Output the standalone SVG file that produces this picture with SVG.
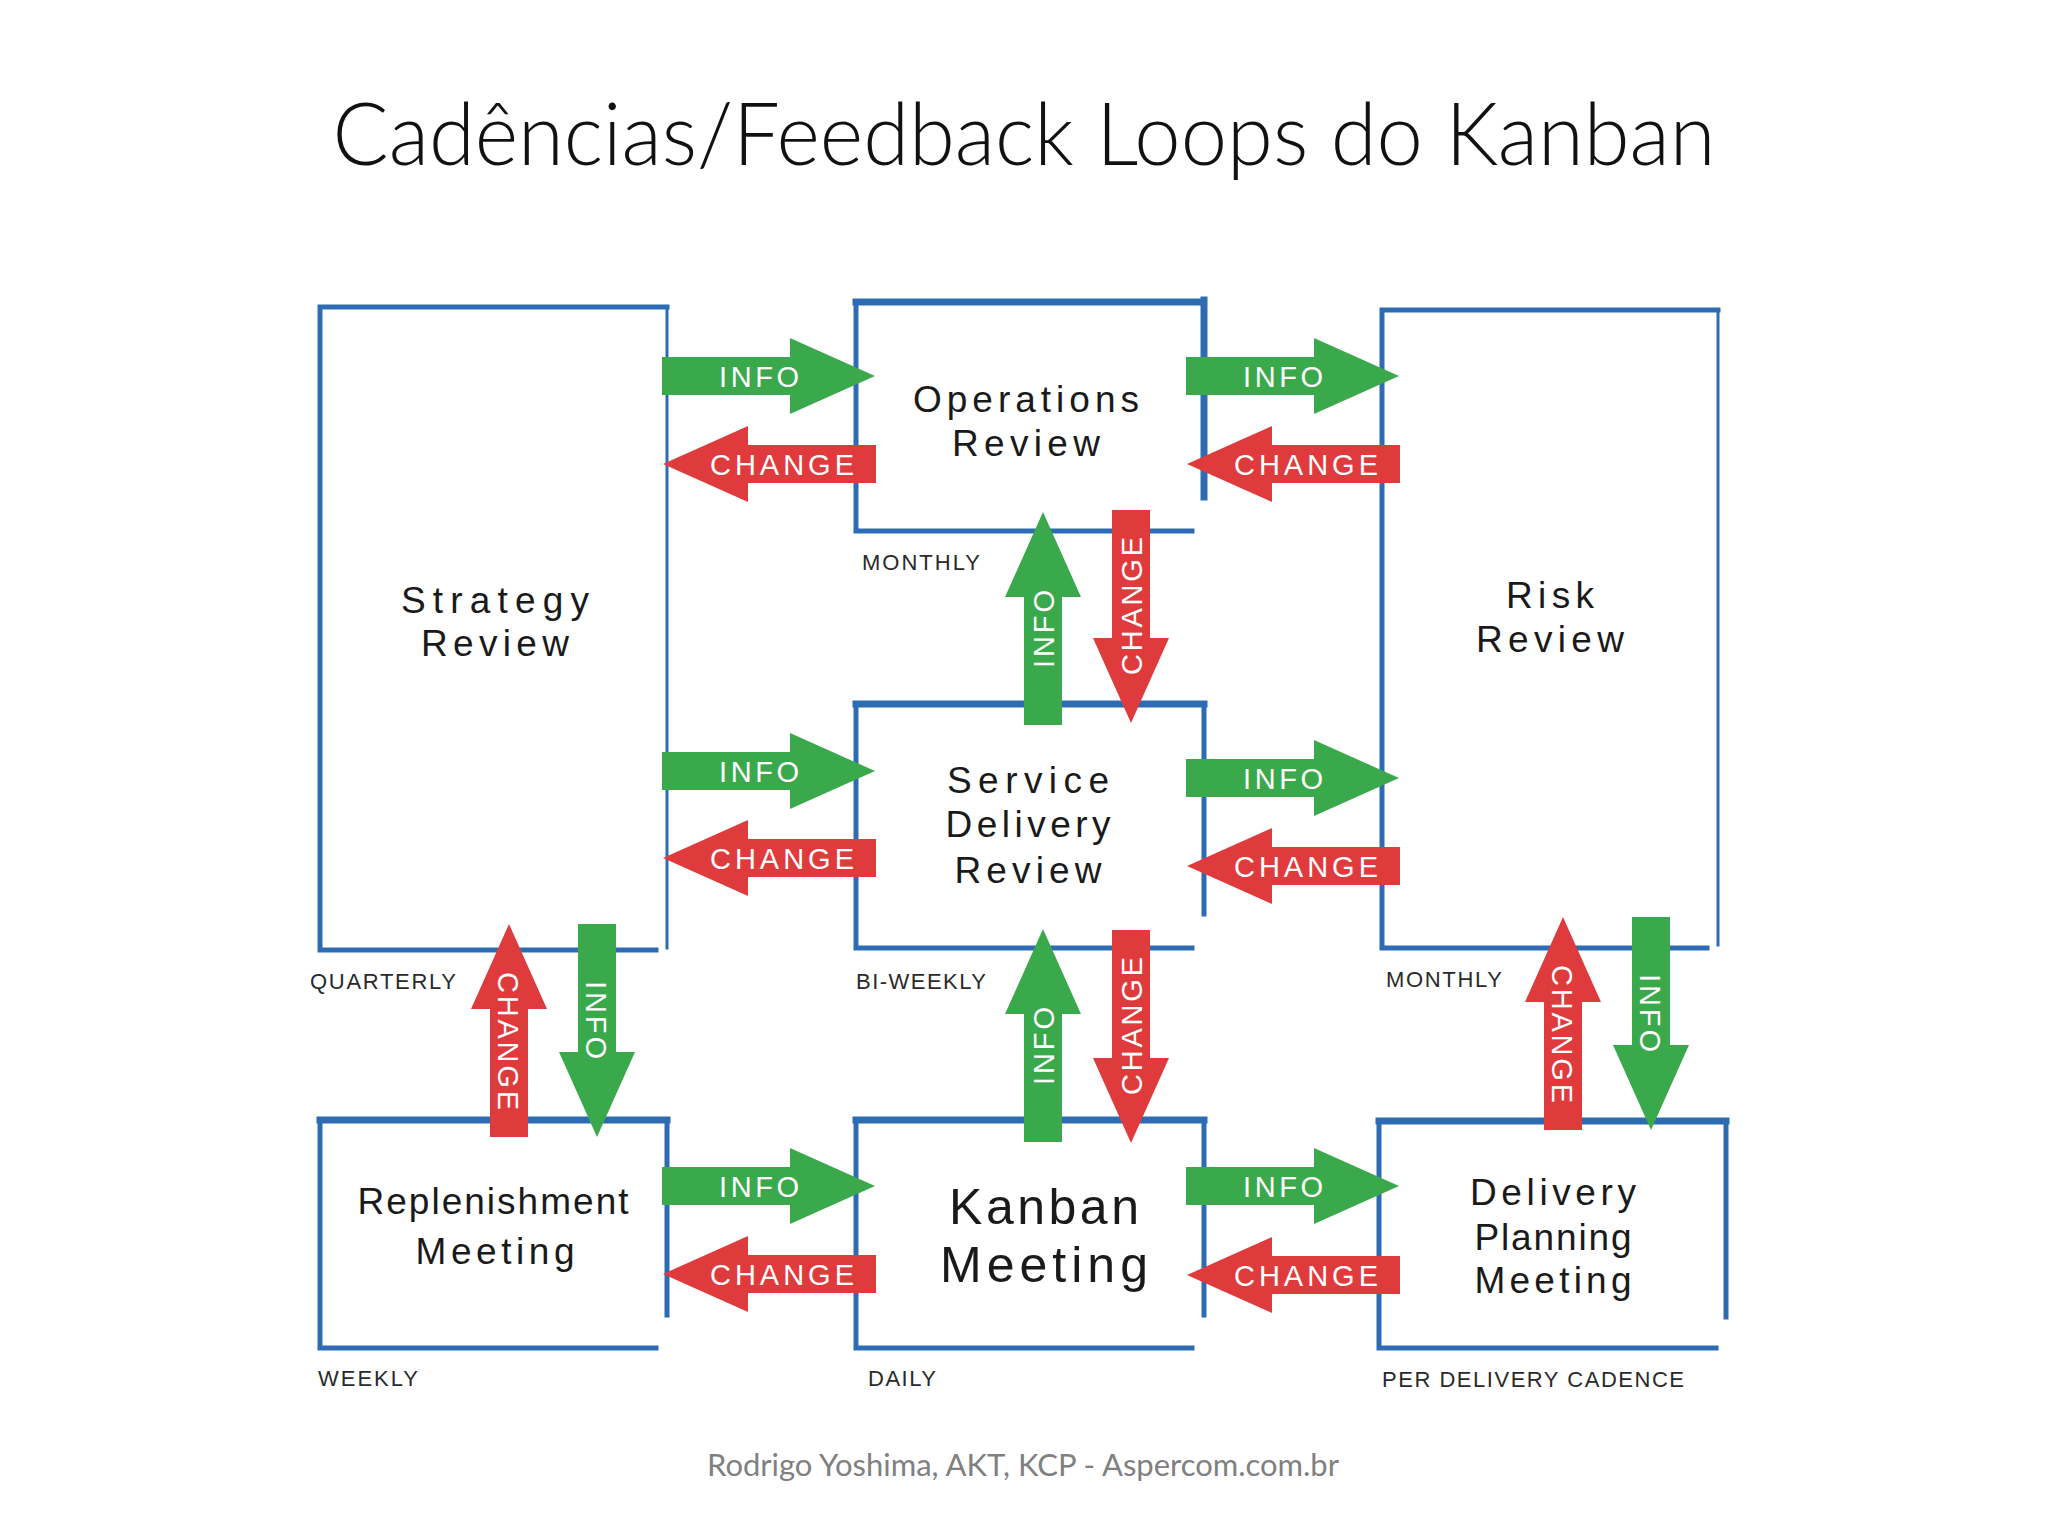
<svg xmlns="http://www.w3.org/2000/svg" width="2048" height="1536" viewBox="0 0 2048 1536">
<style>
.bg{fill:#ffffff}
.edge{fill:none;stroke:#2d6cb3;stroke-linecap:square}
.e5{stroke-width:5}
.e7{stroke-width:7}
.e3{stroke-width:3}
.title{font-family:Lato,"Open Sans","Liberation Sans",sans-serif;font-weight:300;font-size:86px;fill:#111111}
.footer{font-family:Lato,"Open Sans","Liberation Sans",sans-serif;font-size:31px;fill:#808080}
.lbl{font-family:"Liberation Sans",Arial,sans-serif;font-size:37px;fill:#1a1a1a;text-anchor:middle}
.big{font-size:50px}
.cad{font-family:"Liberation Sans",Arial,sans-serif;font-size:22px;fill:#2a2a2a}
.info{fill:#3aa94b}
.change{fill:#df3b3c}
.at{font-family:"Liberation Sans",Arial,sans-serif;font-size:29px;fill:#ffffff;text-anchor:middle}
</style>
<defs>
<path id="arrow" d="M0,-19 H128 V-38 L213,0 L128,38 V19 H0 Z"/>
</defs>
<rect class="bg" x="0" y="0" width="2048" height="1536"/>
<text class="title" x="1024" y="165" text-anchor="middle" textLength="1383" lengthAdjust="spacingAndGlyphs">Cadências/Feedback Loops do Kanban</text>

<g id="strategy-review">
<path class="edge e5" d="M320,307 H667 M320,307 V950 M320,950 H656"/>
<path class="edge e3" d="M667,307 V948"/>
<text class="lbl" x="495" y="613" textLength="188">Strategy</text>
<text class="lbl" x="495" y="656" textLength="148">Review</text>
<text class="cad" x="310" y="989" textLength="146">QUARTERLY</text>
</g>

<g id="operations-review">
<path class="edge e7" d="M856,302 H1204 M1204,300 V497"/>
<path class="edge e5" d="M856,302 V531 M856,531 H1192"/>
<text class="lbl" x="1026" y="412" textLength="226">Operations</text>
<text class="lbl" x="1026" y="456" textLength="148">Review</text>
<text class="cad" x="862" y="570" textLength="118">MONTHLY</text>
</g>

<g id="risk-review">
<path class="edge e5" d="M1382,310 H1718 M1382,310 V948 M1382,948 H1707"/>
<path class="edge e3" d="M1718,310 V945"/>
<text class="lbl" x="1550" y="608" textLength="88">Risk</text>
<text class="lbl" x="1550" y="652" textLength="148">Review</text>
<text class="cad" x="1386" y="987" textLength="116">MONTHLY</text>
</g>

<g id="service-delivery-review">
<path class="edge e7" d="M856,704 H1204"/>
<path class="edge e5" d="M856,704 V948 M856,948 H1192 M1204,704 V914"/>
<text class="lbl" x="1028" y="793" textLength="162">Service</text>
<text class="lbl" x="1028" y="837" textLength="165">Delivery</text>
<text class="lbl" x="1028" y="883" textLength="147">Review</text>
<text class="cad" x="856" y="989" textLength="130">BI-WEEKLY</text>
</g>

<g id="replenishment-meeting">
<path class="edge e7" d="M320,1120 H667"/>
<path class="edge e5" d="M320,1120 V1348 M320,1348 H656 M667,1120 V1315"/>
<text class="lbl" x="493" y="1214" textLength="271">Replenishment</text>
<text class="lbl" x="495" y="1264" textLength="159">Meeting</text>
<text class="cad" x="318" y="1386" textLength="100">WEEKLY</text>
</g>

<g id="kanban-meeting">
<path class="edge e7" d="M856,1120 H1204"/>
<path class="edge e5" d="M856,1120 V1348 M856,1348 H1192 M1204,1120 V1315"/>
<text class="lbl big" x="1044" y="1224" textLength="190">Kanban</text>
<text class="lbl big" x="1044" y="1282" textLength="208">Meeting</text>
<text class="cad" x="868" y="1386" textLength="68">DAILY</text>
</g>

<g id="delivery-planning-meeting">
<path class="edge e7" d="M1379,1121 H1726"/>
<path class="edge e5" d="M1379,1121 V1348 M1379,1348 H1716 M1726,1121 V1317"/>
<text class="lbl" x="1553" y="1205" textLength="166">Delivery</text>
<text class="lbl" x="1553" y="1250" textLength="157">Planning</text>
<text class="lbl" x="1553" y="1293" textLength="157">Meeting</text>
<text class="cad" x="1382" y="1387" textLength="302">PER DELIVERY CADENCE</text>
</g>

<g id="connectors">
<use href="#arrow" class="info" transform="translate(662,376)"/>
<text class="at" x="759" y="387" textLength="80">INFO</text>
<use href="#arrow" class="change" transform="translate(876,464) rotate(180)"/>
<text class="at" x="782" y="475" textLength="144">CHANGE</text>
<use href="#arrow" class="info" transform="translate(1186,376)"/>
<text class="at" x="1283" y="387" textLength="80">INFO</text>
<use href="#arrow" class="change" transform="translate(1400,464) rotate(180)"/>
<text class="at" x="1306" y="475" textLength="144">CHANGE</text>
<use href="#arrow" class="info" transform="translate(662,771)"/>
<text class="at" x="759" y="782" textLength="80">INFO</text>
<use href="#arrow" class="change" transform="translate(876,858) rotate(180)"/>
<text class="at" x="782" y="869" textLength="144">CHANGE</text>
<use href="#arrow" class="info" transform="translate(1186,778)"/>
<text class="at" x="1283" y="789" textLength="80">INFO</text>
<use href="#arrow" class="change" transform="translate(1400,866) rotate(180)"/>
<text class="at" x="1306" y="877" textLength="144">CHANGE</text>
<use href="#arrow" class="info" transform="translate(662,1186)"/>
<text class="at" x="759" y="1197" textLength="80">INFO</text>
<use href="#arrow" class="change" transform="translate(876,1274) rotate(180)"/>
<text class="at" x="782" y="1285" textLength="144">CHANGE</text>
<use href="#arrow" class="info" transform="translate(1186,1186)"/>
<text class="at" x="1283" y="1197" textLength="80">INFO</text>
<use href="#arrow" class="change" transform="translate(1400,1275) rotate(180)"/>
<text class="at" x="1306" y="1286" textLength="144">CHANGE</text>
<use href="#arrow" class="info" transform="translate(1043,725) rotate(-90)"/>
<text class="at" transform="translate(1043,629) rotate(-90)" x="0" y="11" textLength="78">INFO</text>
<use href="#arrow" class="change" transform="translate(1131,510) rotate(90)"/>
<text class="at" transform="translate(1131,606) rotate(-90)" x="0" y="11" textLength="138">CHANGE</text>
<use href="#arrow" class="info" transform="translate(1043,1142) rotate(-90)"/>
<text class="at" transform="translate(1043,1046) rotate(-90)" x="0" y="11" textLength="78">INFO</text>
<use href="#arrow" class="change" transform="translate(1131,930) rotate(90)"/>
<text class="at" transform="translate(1131,1026) rotate(-90)" x="0" y="11" textLength="138">CHANGE</text>
<use href="#arrow" class="change" transform="translate(509,1137) rotate(-90)"/>
<text class="at" transform="translate(509,1041) rotate(90)" x="0" y="11" textLength="138">CHANGE</text>
<use href="#arrow" class="info" transform="translate(597,924) rotate(90)"/>
<text class="at" transform="translate(597,1020) rotate(90)" x="0" y="11" textLength="78">INFO</text>
<use href="#arrow" class="change" transform="translate(1563,1130) rotate(-90)"/>
<text class="at" transform="translate(1563,1034) rotate(90)" x="0" y="11" textLength="138">CHANGE</text>
<use href="#arrow" class="info" transform="translate(1651,917) rotate(90)"/>
<text class="at" transform="translate(1651,1013) rotate(90)" x="0" y="11" textLength="78">INFO</text>
</g>

<text class="footer" x="1023" y="1476" text-anchor="middle" textLength="632">Rodrigo Yoshima, AKT, KCP - Aspercom.com.br</text>
</svg>
